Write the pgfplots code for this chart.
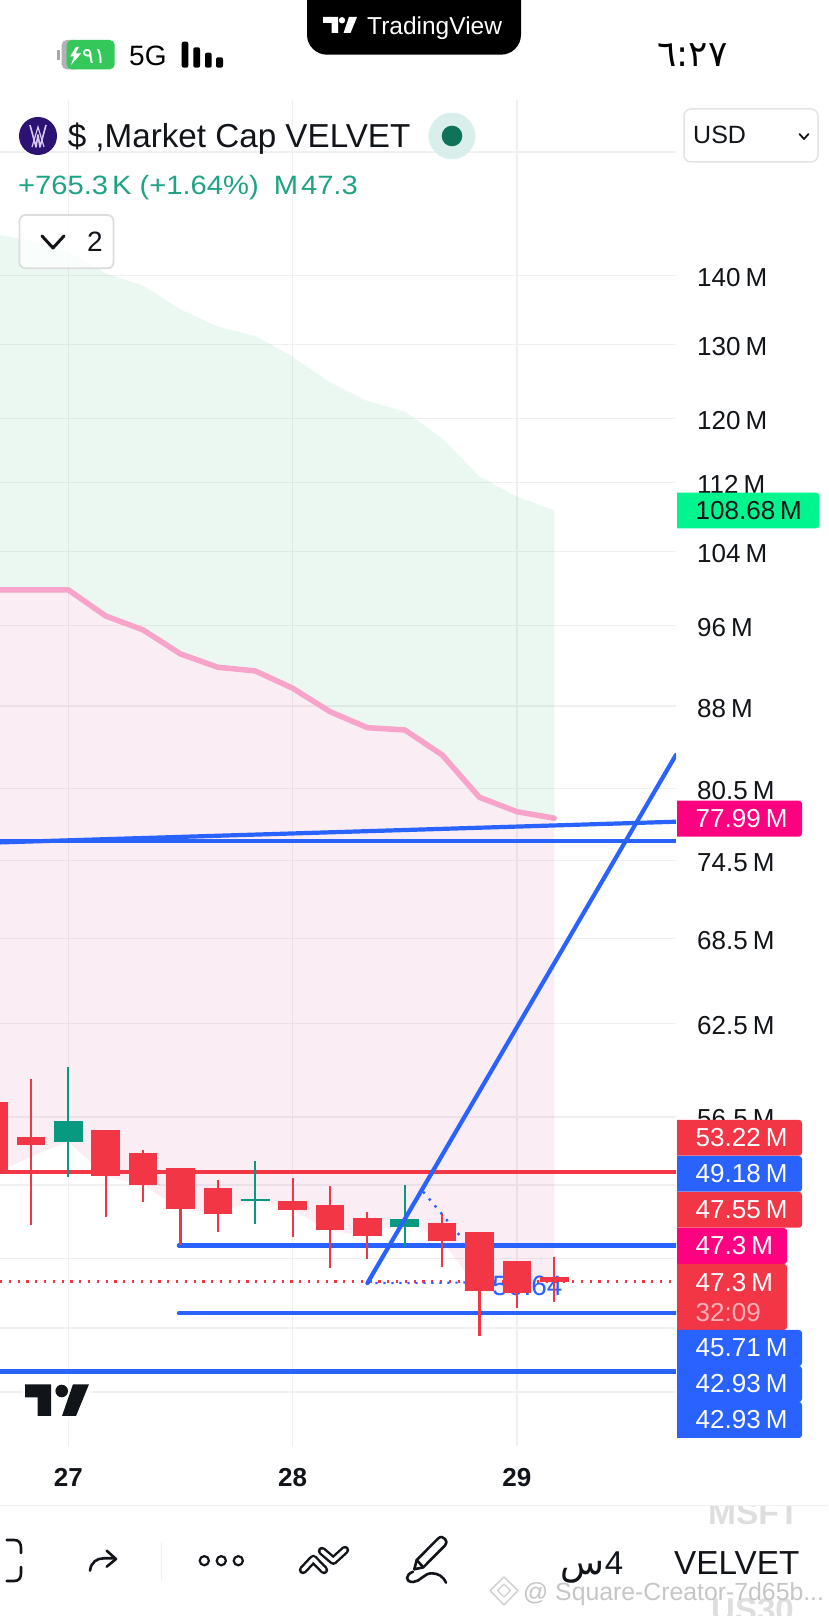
\documentclass[border=0pt]{standalone}
\usepackage{fontspec}
\usepackage{pgfplots}
\pgfplotsset{compat=1.18}
\setmainfont{Liberation Sans}
\newfontfamily\widefont[FakeStretch=1.1]{Liberation Sans}
\newfontfamily\arabicfont[Script=Arabic]{DejaVu Sans}
\TeXXeTstate=1
\definecolor{tvred}{HTML}{F23645}
\definecolor{tvgreen}{HTML}{089981}
\definecolor{tvblue}{HTML}{2962FF}
\definecolor{tvmag}{HTML}{FF0080}
\definecolor{tvlime}{HTML}{00F58F}
\definecolor{pinkline}{HTML}{F7A3CA}
\definecolor{gridc}{HTML}{F0F0F0}
\definecolor{cloudg}{RGB}{0,175,95}
\definecolor{cloudp}{RGB}{200,33,111}
\definecolor{inkc}{HTML}{111418}
\definecolor{batt}{HTML}{34C759}
\definecolor{tokn}{HTML}{2C1272}
\definecolor{toknl}{HTML}{D9C8F5}
\definecolor{halo}{HTML}{D9EFEB}
\definecolor{dotc}{HTML}{0E7358}
\definecolor{teal}{HTML}{1FA383}
\definecolor{boxl}{HTML}{E4E4E4}
\definecolor{boxm}{HTML}{DDDDDD}
\definecolor{timer}{HTML}{FBB0B8}
\definecolor{ghost}{HTML}{DEDEDE}
\definecolor{credl}{HTML}{CFCFCF}
\definecolor{credt}{HTML}{C6C6C6}
\newcommand\fs[1]{\fontsize{#1}{#1}\selectfont}
\newcommand\MM{\hspace{5pt}M}
\newcommand\candle[6]{%
  \addplot[#6,line width=2.2pt,forget plot] coordinates {(#1,#3)(#1,#4)};
  \addplot[#6,line width=28.6pt,forget plot] coordinates {(#1,#2)(#1,#5)};
}
\newcommand\pill[6]{% right, top, bottom, colour, text colour, text
  \fill[#4] (677,#2) [rounded corners=3pt] -- (#1,#2) -- (#1,#3) [sharp corners] -- (677,#3) -- cycle;
  \node[anchor=base west,inner sep=0pt,text=#5,font=\fs{26}] at (695.5,#3-9) {#6};
}
\begin{document}
\begin{tikzpicture}
\useasboundingbox (0,0) rectangle (828pt,1616pt);
\fill[white] (0,0) rectangle (828pt,1616pt);
\begin{axis}[
  at={(0pt,170pt)},anchor=south west,scale only axis,
  width=676pt,height=1346pt,
  xmin=26.6955,xmax=29.7093,
  ymode=log,ymin=39.618,ymax=169.235,
  axis line style={draw=none},
  tick style={draw=none},
  grid=major,grid style={gridc,line width=1.5pt},
  no markers,
  xtick={27,28,29},xticklabels={27,28,29},
  xticklabel style={font=\fs{26}\bfseries,anchor=center,inner sep=0pt,yshift=-31.5pt,text=inkc},
  ytick={42,45,48.5,52.5,56.5,62.5,68.5,74.5,80.5,88,96,104,112,120,130,140,160},
  yticklabels={{},{},{},{},56.5\MM,62.5\MM,68.5\MM,74.5\MM,80.5\MM,88\MM,96\MM,104\MM,112\MM,120\MM,130\MM,140\MM,{}},
  yticklabel pos=right,
  yticklabel style={font=\fs{26},anchor=west,inner sep=0pt,xshift=21pt,yshift=-2pt,text=inkc},
]
% upper cloud: between the upper band and the pink band
\addplot[fill=cloudg,fill opacity=0.08,draw=none,forget plot] coordinates {
 (26.6667,146.46)(26.8333,145.40)(27,143.69)(27.1667,140.38)(27.3333,138.51)(27.5,135.03)(27.6667,132.52)(27.8333,131.20)(28,128.30)(28.1667,124.80)(28.3333,122.31)(28.5,120.91)(28.6667,117.49)(28.8333,112.72)(29,110.32)(29.1667,108.68)
 (29.1667,77.99)(29,78.54)(28.8333,79.77)(28.6667,83.49)(28.5,85.77)(28.3333,85.98)(28.1667,87.48)(28,89.72)(27.8333,91.41)(27.6667,91.77)(27.5,93.10)(27.3333,95.54)(27.1667,96.99)(27,99.76)(26.8333,99.76)(26.6667,99.76)(26.6667,146.46)};
% lower cloud: between the pink band and the close
\addplot[fill=cloudp,fill opacity=0.08,draw=none,forget plot] coordinates {
 (26.6667,99.76)(26.8333,99.76)(27,99.76)(27.1667,96.99)(27.3333,95.54)(27.5,93.10)(27.6667,91.77)(27.8333,91.41)(28,89.72)(28.1667,87.48)(28.3333,85.98)(28.5,85.77)(28.6667,83.49)(28.8333,79.77)(29,78.54)(29.1667,77.99)
 (29.1667,47.3)(29,46.73)(28.8333,46.84)(28.6667,49.41)(28.5,50.59)(28.3333,49.67)(28.1667,49.98)(28,51.09)(27.8333,51.66)(27.6667,50.90)(27.5,51.14)(27.3333,52.50)(27.1667,53.01)(27,55.01)(26.8333,54.13)(26.6667,53.10)(26.6667,99.76)};
% pink band
\addplot[pinkline,line width=5.5pt,line join=round,line cap=round,forget plot] coordinates {
 (26.6667,99.76)(26.8333,99.76)(27,99.76)(27.1667,96.99)(27.3333,95.54)(27.5,93.10)(27.6667,91.77)(27.8333,91.41)(28,89.72)(28.1667,87.48)(28.3333,85.98)(28.5,85.77)(28.6667,83.49)(28.8333,79.77)(29,78.54)(29.1667,77.99)};
% drawn levels
\addplot[tvblue,line width=4.2pt,forget plot] coordinates {(26.6955,75.97)(29.7093,77.69)};
\addplot[tvblue,line width=4.2pt,forget plot] coordinates {(26.6955,76.09)(29.7093,76.09)};
\addplot[tvred,line width=4.2pt,forget plot] coordinates {(26.6955,53.22)(29.7093,53.22)};
\addplot[tvblue,line width=4.2pt,line cap=round,forget plot] coordinates {(27.4930,49.18)(29.7093,49.18)};
\addplot[tvblue,line width=4.2pt,line cap=round,forget plot] coordinates {(27.4930,45.71)(29.7093,45.71)};
\addplot[tvblue,line width=4.2pt,forget plot] coordinates {(26.6955,42.93)(29.7093,42.93)};
% last-price dotted line, dotted helpers and the hidden figure
\addplot[tvred,line width=2.2pt,dash pattern=on 2.2pt off 6.6pt,forget plot] coordinates {(26.6955,47.3)(29.7093,47.3)};
\addplot[tvblue,line width=2.2pt,dash pattern=on 2.2pt off 5.8pt,forget plot] coordinates {(28.3333,47.22)(28.7700,47.25)};
\addplot[tvblue,line width=2.4pt,dash pattern=on 2.4pt off 6.6pt,forget plot] coordinates {(28.5820,52.12)(28.7600,49.50)};
\addplot[draw=none,forget plot] coordinates {(28.8900,47.1)} node[anchor=west,inner sep=0pt,text=tvblue,font=\fs{28}] {50.64};
% candles: x, open, high, low, close
\candle{26.6667}{57.40}{57.40}{53.10}{53.10}{tvred}
\candle{26.8333}{55.29}{58.84}{50.29}{54.82}{tvred}
\candle{27}{55.01}{59.61}{52.94}{56.27}{tvgreen}
\candle{27.1667}{55.69}{55.69}{50.74}{53.01}{tvred}
\candle{27.3333}{54.34}{54.52}{51.53}{52.50}{tvred}
\candle{27.5}{53.47}{53.47}{49.18}{51.14}{tvred}
\candle{27.6667}{52.31}{52.79}{49.92}{50.90}{tvred}
\candle{27.8333}{51.60}{53.88}{50.35}{51.70}{tvgreen}
\candle{28}{51.62}{52.88}{49.62}{51.09}{tvred}
\candle{28.1667}{51.38}{52.44}{48.02}{49.98}{tvred}
\candle{28.3333}{50.68}{50.99}{48.47}{49.67}{tvred}
\candle{28.5}{50.18}{52.50}{49.12}{50.59}{tvgreen}
\candle{28.6667}{50.41}{50.88}{48.06}{49.41}{tvred}
\candle{28.8333}{49.92}{49.92}{44.61}{46.84}{tvred}
\candle{29}{48.38}{48.38}{45.99}{46.73}{tvred}
\candle{29.1667}{47.56}{48.58}{46.26}{47.30}{tvred}
% steep drawn line
\addplot[tvblue,line width=4.2pt,line cap=round,forget plot] coordinates {(28.3333,47.22)(29.7093,83.50)};
\end{axis}

\begin{scope}[x=1pt,y=-1pt,yshift=1616pt]
% ---- status bar ----
\fill[black,rounded corners=20pt] (307,-30) rectangle (521,54.7);
\fill[white] (323,17) -- (338,17) -- (338,33) -- (331.5,33) -- (331.5,23) -- (323,23) -- cycle;
\fill[white] (342,20.3) circle[radius=3.2pt];
\fill[white] (349,17) -- (357,17) -- (350.5,33) -- (343.5,33) -- cycle;
\node[anchor=base west,inner sep=0pt,text=white,font=\fs{24.5}] at (367,34.5) {TradingView};
\fill[gray!70] (56.7,50) rectangle (60,60);
\fill[gray!60,rounded corners=5pt] (61.7,40) rectangle (80,69.3);
\fill[batt,rounded corners=5pt] (66.7,40) rectangle (114.7,69.3);
\fill[white] (76,47) -- (70,56.5) -- (74,56.5) -- (71,65) -- (81,53.5) -- (75.5,53.5) -- (79,47) -- cycle;
\node[anchor=base west,inner sep=0pt,text=white,font=\arabicfont\fs{22}] at (82,63.5) {٩١};
\node[anchor=base west,inner sep=0pt,text=black,font=\fs{28}] at (129,66) {5G};
\foreach \a/\b/\c in {181.7/188.3/41.7,193.3/200/47.3,205/211.7/52.7,216/223/57.3}
  \fill[black,rounded corners=2pt] (\a,\c) rectangle (\b,67.7);
\node[anchor=base west,inner sep=0pt,text=black,font=\arabicfont\fs{36}] at (657,66.5) {٦:٢٧};
% ---- header ----
\fill[tokn] (38,136) circle[radius=19pt];
\draw[toknl,line width=1.6pt,line join=round] (30,125) -- (36,147) -- (38,135) -- (40,147) -- (46,125);
\draw[toknl,line width=1.2pt] (32,147) -- (38,127) -- (44,147);
\node[anchor=base west,inner sep=0pt,text=inkc,font=\fs{33.2}] at (67.6,147.3) {\$ ,Market Cap VELVET};
\fill[halo] (452,136) circle[radius=23.3pt];
\fill[dotc] (452,136) circle[radius=10.3pt];
\node[anchor=base west,inner sep=0pt,text=teal,font=\widefont\fs{26.5}] at (18,195) {+765.3\hspace{4pt}K (+1.64\%)\hspace{15pt}M\hspace{3pt}47.3};
\draw[boxl,fill=white,line width=1.5pt,rounded corners=7pt] (684,109) rectangle (818,162);
\node[anchor=base west,inner sep=0pt,text=inkc,font=\fs{25}] at (693,144) {USD};
\draw[inkc,line width=1.8pt,line cap=round,line join=round] (799.5,134) -- (804,139) -- (808.5,134);
\draw[boxm,fill=white,fill opacity=0.75,line width=1.8pt,rounded corners=6pt] (19.5,215) rectangle (113.5,268.3);
\draw[inkc,line width=3pt,line cap=round,line join=round] (42,236) -- (53,248) -- (64,236);
\node[anchor=base west,inner sep=0pt,text=inkc,font=\fs{28}] at (87,252) {2};
% ---- watermark logo ----
\fill[white,opacity=0.85] (22,1381) rectangle (92,1420);
\fill[inkc] (25,1384.3) -- (51,1384.3) -- (51,1416) -- (37.7,1416) -- (37.7,1397.3) -- (25,1397.3) -- cycle;
\fill[inkc] (61.7,1391) circle[radius=6.3pt];
\fill[inkc] (73,1384.3) -- (89,1384.3) -- (76,1416) -- (62,1416) -- cycle;
% ---- price pills ----
\pill{819.3}{492.7}{528.3}{tvlime}{inkc}{108.68\MM}
\pill{802}{800.7}{836.7}{tvmag}{white}{77.99\MM}
\pill{802}{1120}{1155.7}{tvred}{white}{53.22\MM}
\pill{802}{1156}{1191.7}{tvblue}{white}{49.18\MM}
\pill{802}{1192}{1227.7}{tvred}{white}{47.55\MM}
\pill{787}{1228}{1264}{tvmag}{white}{47.3\MM}
\fill[tvred] (677,1264) [rounded corners=3pt] -- (787,1264) -- (787,1330) [sharp corners] -- (677,1330) -- cycle;
\node[anchor=base west,inner sep=0pt,text=white,font=\fs{26}] at (695.5,1292) {47.3\MM};
\node[anchor=base west,inner sep=0pt,text=timer,font=\fs{26}] at (695.5,1322) {32:09};
\pill{802}{1330}{1366}{tvblue}{white}{45.71\MM}
\pill{802}{1366}{1402}{tvblue}{white}{42.93\MM}
\pill{802}{1402}{1438}{tvblue}{white}{42.93\MM}
% ---- toolbar ----
\draw[gridc,line width=1.5pt] (0,1505.7) -- (828,1505.7);
\begin{scope}
\clip (660,1506.5) rectangle (828,1616);
\node[anchor=base west,inner sep=0pt,text=ghost,font=\fs{33.5}\bfseries] at (708,1525) {MSFT};
\node[anchor=base west,inner sep=0pt,text=ghost,font=\fs{33}\bfseries] at (711,1621.6) {US30};
\end{scope}
\begin{scope}[inkc,line width=2.6pt,line cap=round,line join=round]
\draw (6.7,1540) -- (14,1540) .. controls (19,1540) and (21,1543) .. (21,1548) -- (21,1553);
\draw (6.7,1581) -- (14,1581) .. controls (19,1581) and (21,1578) .. (21,1573) -- (21,1567);
\draw (90,1570.7) .. controls (91,1562) and (97,1558.3) .. (104,1558.3) -- (115,1558.3);
\draw (106.7,1550.7) -- (116,1559) -- (106.7,1566.7);
\draw[gridc,line width=1pt] (161.7,1542) -- (161.7,1580);
\draw[line width=2.2pt] (204.3,1560.7) circle[radius=4.6pt] (221.3,1560.7) circle[radius=4.6pt] (238.3,1560.7) circle[radius=4.6pt];
\draw[line width=8.5pt] (303,1570) -- (313.3,1559) -- (324,1570);
\draw[white,line width=3.6pt] (303,1570) -- (313.3,1559) -- (324,1570);
\draw[line width=8.5pt] (322,1551) -- (333.3,1560.7) -- (345,1550);
\draw[white,line width=3.6pt] (322,1551) -- (333.3,1560.7) -- (345,1550);
\draw (414.3,1569.3) -- (416.7,1560) -- (438.3,1538.3) .. controls (441,1536) and (443,1537) .. (445,1539) .. controls (447,1541) and (447,1543) .. (445,1545.5) -- (423.3,1567.3) -- cycle;
\draw (416.7,1560) -- (423.3,1567.3);
\draw (413,1571.7) .. controls (405,1575) and (405,1582) .. (413,1582) .. controls (420,1582) and (424,1573) .. (432,1573.3) .. controls (438,1573.5) and (443,1576) .. (446,1582.7);
\end{scope}
\node[anchor=base east,inner sep=0pt,text=inkc,font=\fs{33}] at (623.3,1574.3) {\hbox{{\arabicfont\fs{36}\beginR س\endR}4}};
\node[anchor=base west,inner sep=0pt,text=inkc,font=\fs{33.3}] at (674,1574.3) {VELVET};
% ---- overlaid credit ----
\begin{scope}[credl,line width=1.4pt,line join=round]
\draw (504,1577) -- (518,1590.5) -- (504,1605) -- (490,1590.5) -- cycle;
\draw (504,1584) -- (510.5,1590.5) -- (504,1597) -- (497.5,1590.5) -- cycle;
\end{scope}
\node[anchor=base west,inner sep=0pt,text=credt,font=\fs{24.8}] at (523,1600) {@ Square-Creator-7d65b...};
\end{scope}
\end{tikzpicture}
\end{document}
